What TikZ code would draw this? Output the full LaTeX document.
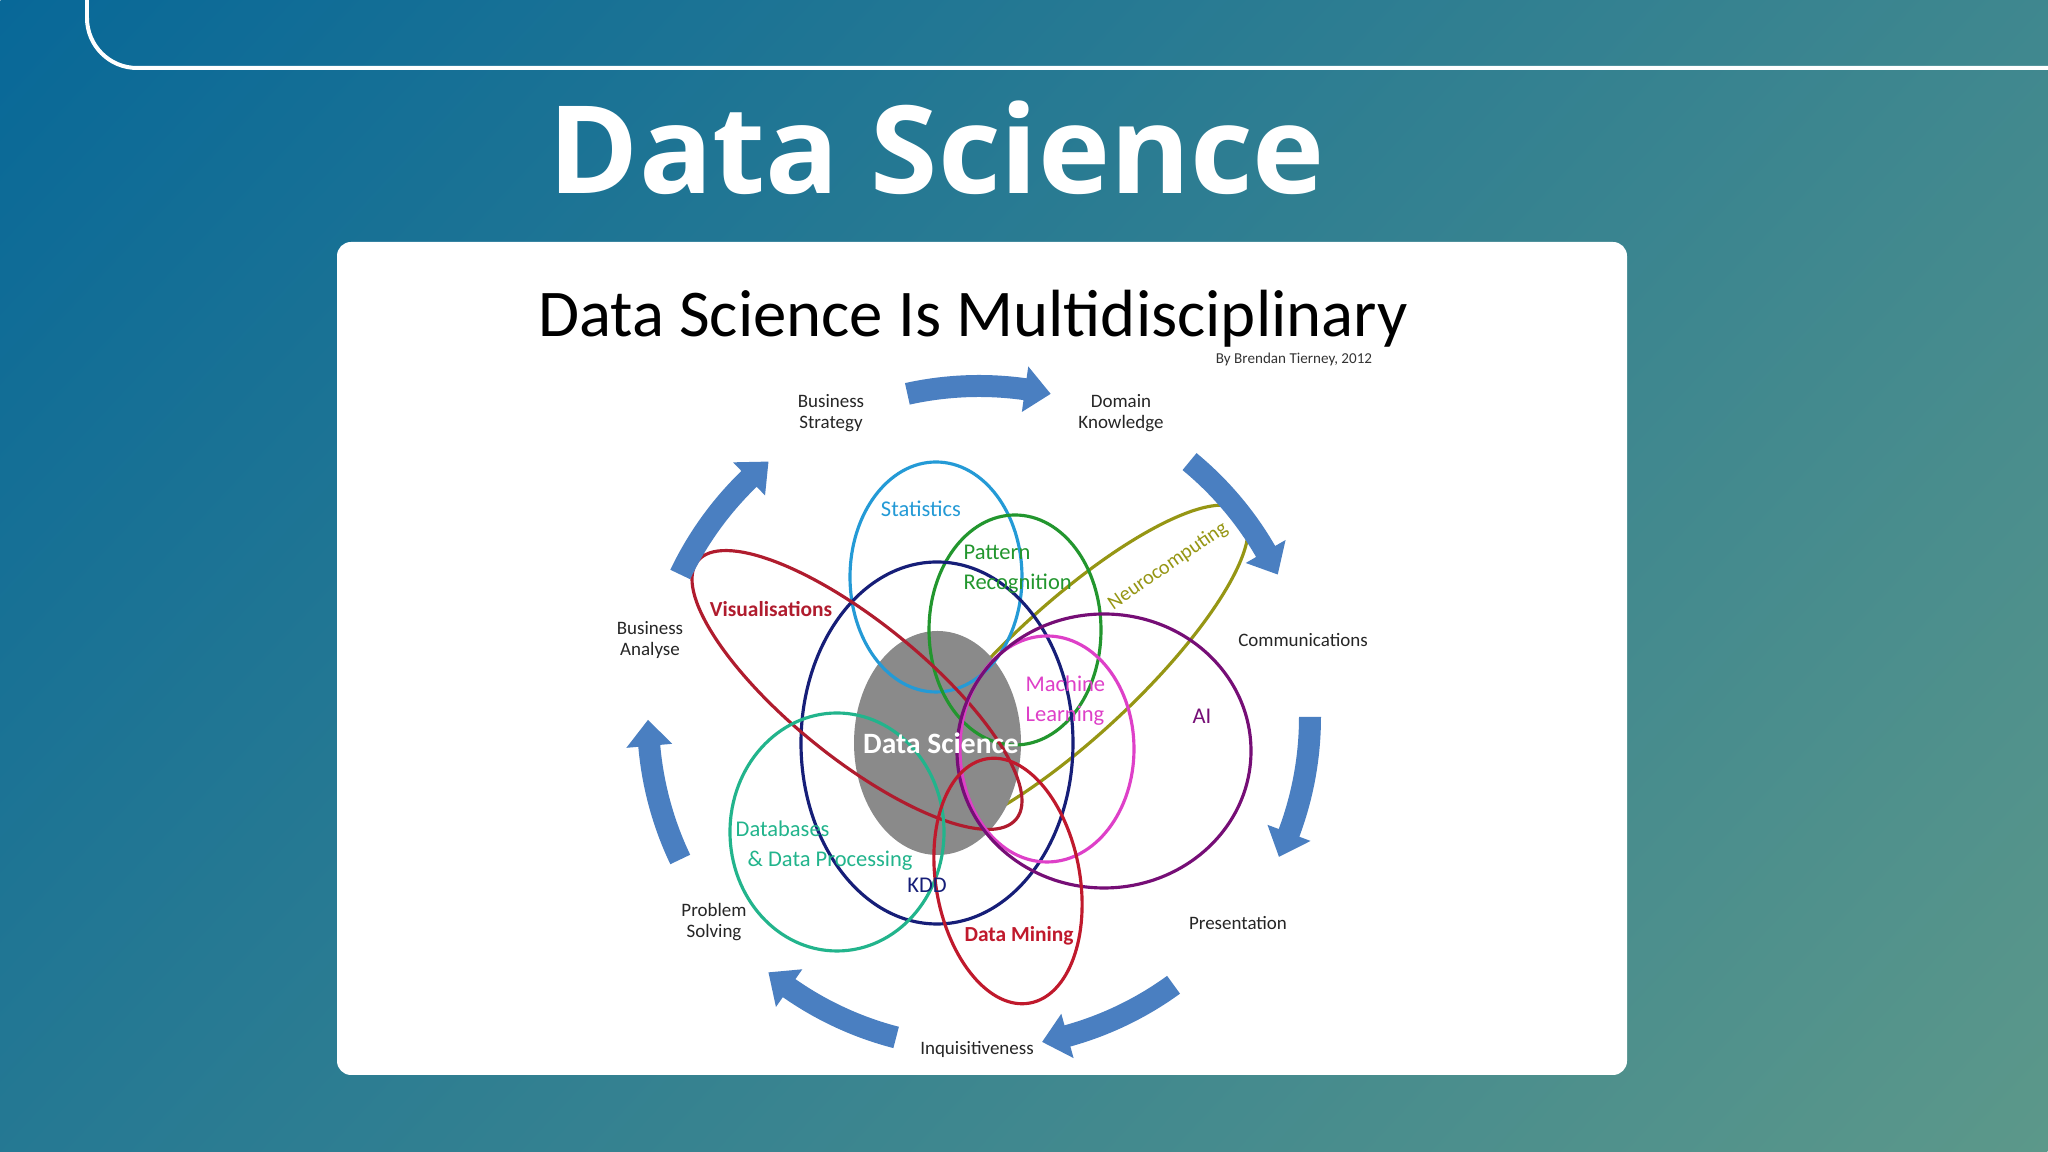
\documentclass[tikz,border=0pt]{standalone}
\usepackage{fontspec}
\setmainfont{Carlito}
\newfontfamily\headfont{Open Sans}
\usetikzlibrary{positioning}

\definecolor{bgleft}{RGB}{8,104,152}
\definecolor{bgright}{RGB}{92,152,138}
\definecolor{ringblue}{RGB}{74,127,193}
\definecolor{statblue}{RGB}{36,154,214}
\definecolor{patgreen}{RGB}{34,150,46}
\definecolor{neuro}{RGB}{150,150,20}
\definecolor{kddnavy}{RGB}{22,30,120}
\definecolor{visred}{RGB}{176,28,46}
\definecolor{dbteal}{RGB}{34,180,140}
\definecolor{mlpink}{RGB}{222,64,200}
\definecolor{aipurple}{RGB}{118,14,118}
\definecolor{dmred}{RGB}{192,25,44}
\definecolor{dsgrey}{RGB}{138,138,138}

\tikzset{
  outerlabel/.style={font=\fontsize{5.4}{6.1}\selectfont, align=center, text=black!85, inner sep=0pt},
  setlabel/.style={font=\fontsize{6.4}{8.6}\selectfont, inner sep=0pt},
  boldlabel/.style={font=\fontsize{6.1}{7}\selectfont\bfseries, inner sep=0pt},
  setline/.style={line width=0.9pt},
}

\begin{document}
\begin{tikzpicture}
\useasboundingbox (0,0) rectangle (20.48,11.52);
\begin{scope}
  \clip (0,0) rectangle (20.48,11.52);
  \shade[left color=bgleft, right color=bgright, transform canvas={rotate around={-43:(10.24,5.76)}}]
    (-1.17,-6.24) rectangle (21.65,17.76);
\end{scope}
\draw[white, line width=0.04cm, rounded corners=0.5cm] (0.87,11.52) -- (0.87,10.84) -- (20.48,10.84);
\node[font=\headfont\bfseries\fontsize{34.7}{40}\selectfont, text=white, anchor=base, inner sep=0pt] (title) at (9.37,9.58) {Data Science};

% card
\fill[white, rounded corners=0.14cm] (3.37,0.77) rectangle (16.27,9.10);
\node[font=\fontsize{19}{22}\selectfont, anchor=base, inner sep=0pt] (cardtitle) at (9.73,8.15) {Data Science Is Multidisciplinary};
\node[font=\fontsize{4.3}{5}\selectfont, text=black!80, inner sep=0pt] (byline) at (12.94,7.93) {By Brendan Tierney, 2012};

% sets
\draw[setline, neuro, rotate around={42.8:(10.70,4.80)}] (10.70,4.80) ellipse [x radius=2.35, y radius=0.66];
\fill[dsgrey] (9.375,4.09) ellipse [x radius=0.835, y radius=1.12];
\draw[setline, statblue] (9.36,5.75) ellipse [x radius=0.86, y radius=1.15];
\draw[setline, patgreen] (10.15,5.22) ellipse [x radius=0.86, y radius=1.15];
\draw[setline, kddnavy] (9.37,4.09) ellipse [x radius=1.36, y radius=1.81];
\draw[setline, visred, rotate around={-39:(8.57,4.62)}] (8.57,4.62) ellipse [x radius=2.05, y radius=0.68];
\draw[setline, dbteal] (8.37,3.20) ellipse [x radius=1.07, y radius=1.19];
\draw[setline, mlpink] (10.47,4.03) ellipse [x radius=0.87, y radius=1.13];
\draw[setline, aipurple] (11.04,4.01) ellipse [x radius=1.47, y radius=1.37];
\draw[setline, dmred, rotate around={10:(10.08,2.71)}] (10.08,2.71) ellipse [x radius=0.72, y radius=1.24];

\node[setlabel, text=statblue] (statlab) at (9.21,6.43) {Statistics};
\node[setlabel, text=patgreen, anchor=west, align=left] (patlab) at (9.63,5.83) {Pattern\\Recognition};
\node[setlabel, text=neuro, font=\fontsize{5.8}{7}\selectfont, rotate=34.6] (neurolab) at (11.68,5.86) {Neurocomputing};
\node[boldlabel, text=visred] (vislab) at (7.71,5.43) {Visualisations};
\node[setlabel, text=mlpink, anchor=west, align=left] (mllab) at (10.25,4.51) {Machine\\Learning};
\node[setlabel, text=aipurple] (ailab) at (12.02,4.36) {AI};
\node[font=\fontsize{8.4}{10}\selectfont\bfseries, text=white, inner sep=0pt] (dslab) at (9.41,4.09) {Data Science};
\node[setlabel, text=dbteal, anchor=west, align=left] (dblab) at (7.35,3.065) {Databases\\\hspace{0.12cm}\& Data Processing};
\node[setlabel, text=kddnavy] (kddlab) at (9.27,2.67) {KDD};
\node[boldlabel, text=dmred] (dmlab) at (10.19,2.16) {Data Mining};

% cycle
\foreach \m in {90,38,-12.5,-66.5,-117,-167,142} {
  \pgfmathsetmacro\sa{\m+12.5}
  \pgfmathsetmacro\ea{\m-12.5}
  \pgfmathsetmacro\ha{\m-8}
  \fill[ringblue, shift={(9.79,4.35)}] (\sa:3.42) arc[start angle=\sa, end angle=\ha, radius=3.42]
    -- (\ha:3.54) -- (\ea:3.31) -- (\ha:3.08) -- (\ha:3.20)
    arc[start angle=\ha, end angle=\sa, radius=3.20] -- cycle;
}
\node[outerlabel] (strategy) at (8.31,7.39) {Business\\Strategy};
\node[outerlabel] (domain) at (11.21,7.39) {Domain\\Knowledge};
\node[outerlabel] (comms) at (13.03,5.12) {Communications};
\node[outerlabel] (present) at (12.38,2.29) {Presentation};
\node[outerlabel] (inquis) at (9.77,1.03) {Inquisitiveness};
\node[outerlabel] (problem) at (7.14,2.30) {Problem\\Solving};
\node[outerlabel] (analyse) at (6.50,5.12) {Business\\Analyse};
\end{tikzpicture}
\end{document}
